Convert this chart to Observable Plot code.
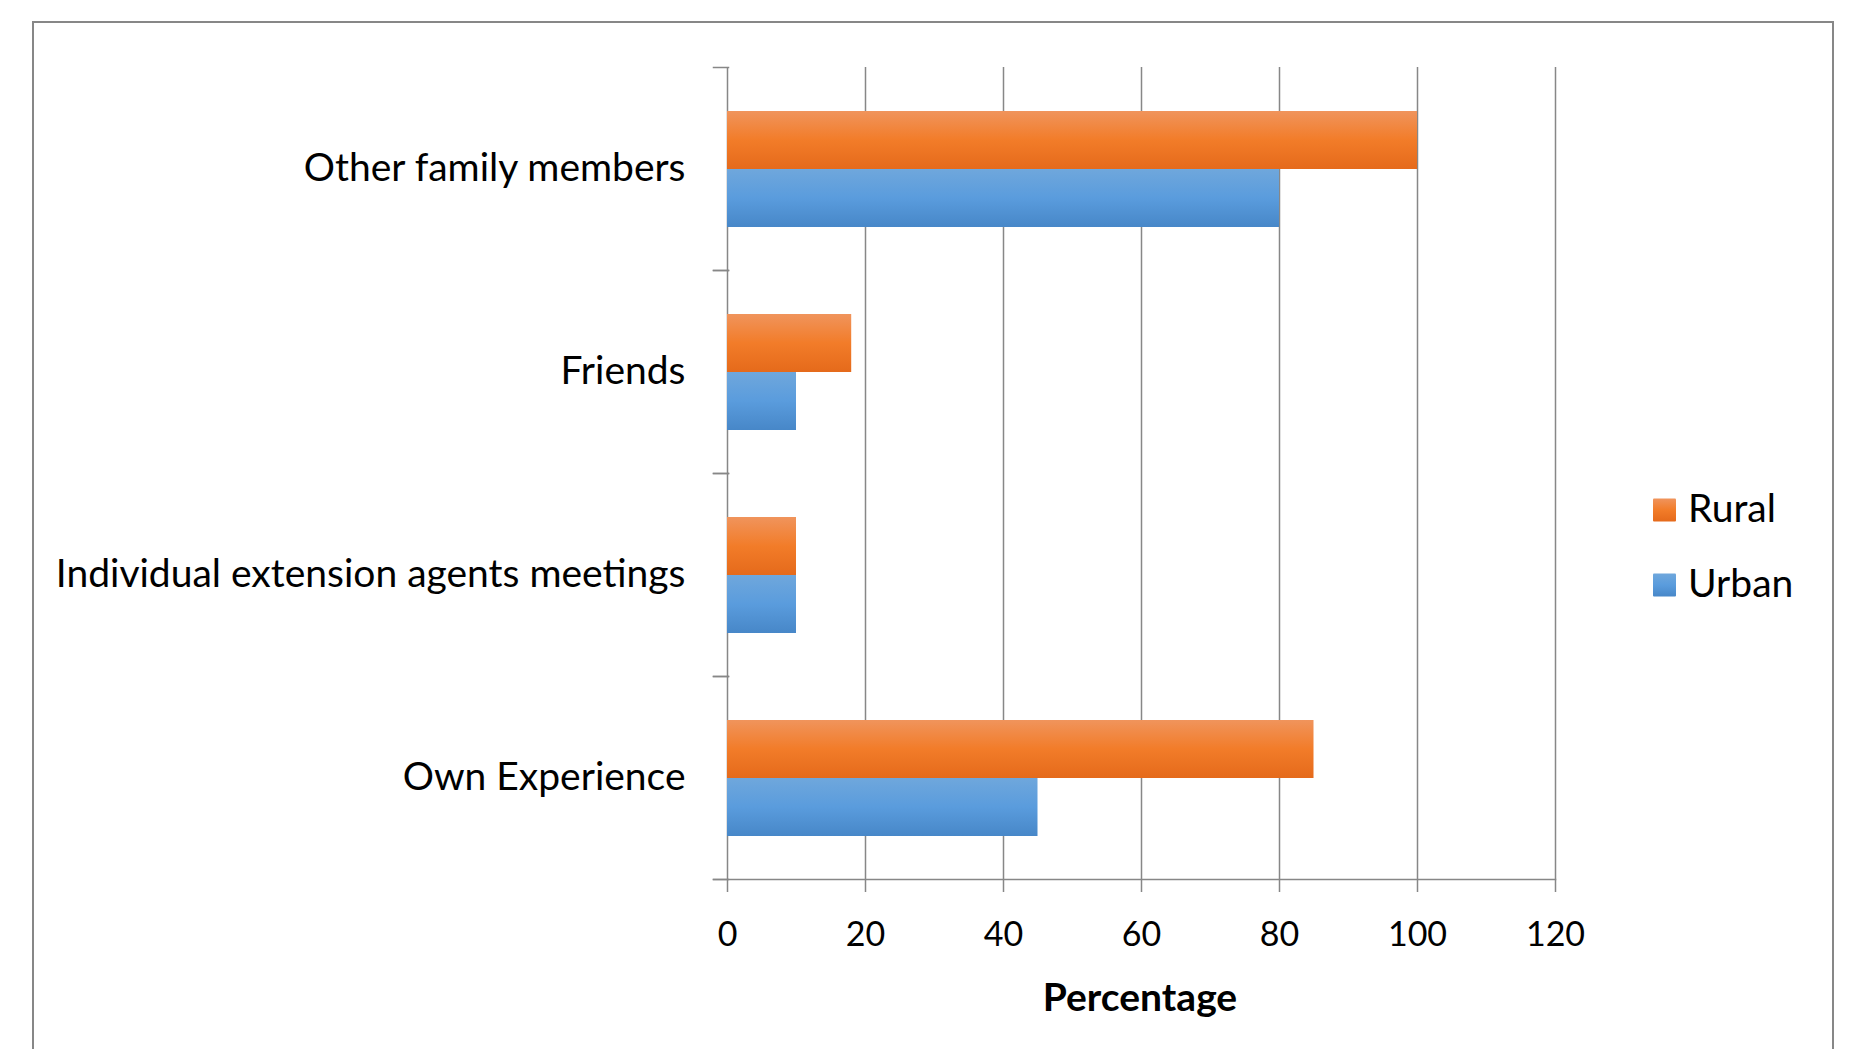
<!DOCTYPE html>
<html><head><meta charset="utf-8">
<script src="https://cdn.jsdelivr.net/npm/d3@7"></script>
<script src="https://cdn.jsdelivr.net/npm/@observablehq/plot@0.6"></script>
<style>
html,body{margin:0;padding:0;background:#fff;overflow:hidden;width:1849px;height:1049px;font-family:Lato,"Open Sans",sans-serif;color:#000}
#border{position:absolute;left:32px;top:21px;width:1802px;height:1100px;border:2px solid #878787;box-sizing:border-box}
#chart{position:absolute;left:0;top:0}
#chart svg g[aria-label^="x-axis"]{font-size:34px}
#chart svg g[aria-label^="fy-axis"]{font-size:39px}
#chart svg g[aria-label^="x-axis"] path,#chart svg g[aria-label^="x-axis"] line{stroke:#878787;stroke-width:1.5px}
#title{position:absolute;left:1140px;top:996px;transform:translate(-50%,-50%);font-weight:bold;font-size:39px;line-height:1;white-space:nowrap}
.leg{position:absolute;left:1653px;display:flex;align-items:center;font-size:39px;line-height:1;white-space:nowrap}
.leg .sw{width:23px;height:23px;margin-right:12px;border-radius:1px}
.leg .tx{position:relative;top:-3px}
</style></head><body>
<div id="border"></div>
<div id="chart"></div>
<div id="title"></div>
<div id="legend"></div>
<script>
const categories = ["Other family members", "Friends", "Individual extension agents meetings", "Own Experience"];
const series = ["Rural", "Urban"];
const ruralValues = [100, 18, 10, 85];
const urbanValues = [80, 10, 10, 45];
const xTicks = [0, 20, 40, 60, 80, 100, 120];
const axisTitle = "Percentage";
const gradients = {
  Rural: ["#F0945C", "#F27C29", "#E56A1B"],
  Urban: ["#6FA7DC", "#5A9CDD", "#4787C8"]
};

const valuesBySeries = {Rural: ruralValues, Urban: urbanValues};
const table = categories.flatMap((c, i) => series.map(s => ({category: c, series: s, value: valuesBySeries[s][i]})));
const gradId = s => "grad" + s;
const lastCategory = categories[categories.length - 1];

const plot = Plot.plot({
  width: 1849,
  height: 1049,
  marginLeft: 727,
  marginRight: 294,
  marginTop: 67,
  marginBottom: 170,
  style: {fontFamily: "Lato, 'Open Sans', sans-serif", color: "#000", background: "transparent", overflow: "visible"},
  x: {domain: [0, 120], ticks: xTicks, tickFormat: d => String(d), tickSize: 13, tickPadding: 29, label: null},
  y: {domain: series, paddingInner: 0, paddingOuter: 0.75, axis: null},
  fy: {domain: categories, padding: 0, axis: "left", tickSize: 0, tickPadding: 42, label: null},
  color: {domain: series, range: series.map(s => `url(#${gradId(s)})`)},
  marks: [
    Plot.ruleX(xTicks, {stroke: "#878787", strokeWidth: 1.5, strokeOpacity: 1}),
    Plot.barX(table, {fy: "category", y: "series", x: "value", fill: "series"}),
    Plot.frame({anchor: "top", stroke: "#878787", strokeWidth: 1.5, strokeOpacity: 1, insetLeft: -14, insetRight: 827}),
    Plot.frame({anchor: "bottom", stroke: "#878787", strokeWidth: 1.5, strokeOpacity: 1, insetLeft: -14, insetRight: 827}),
    Plot.frame({anchor: "bottom", fy: () => lastCategory, stroke: "#878787", strokeWidth: 1.5, strokeOpacity: 1, insetLeft: -14})
  ]
});

// gradient definitions for the bar fills
const ns = "http://www.w3.org/2000/svg";
const defs = document.createElementNS(ns, "defs");
for (const s of series) {
  const g = document.createElementNS(ns, "linearGradient");
  g.setAttribute("id", gradId(s));
  g.setAttribute("x1", "0"); g.setAttribute("y1", "0"); g.setAttribute("x2", "0"); g.setAttribute("y2", "1");
  gradients[s].forEach((c, i, arr) => {
    const st = document.createElementNS(ns, "stop");
    st.setAttribute("offset", String(i / (arr.length - 1)));
    st.setAttribute("stop-color", c);
    g.appendChild(st);
  });
  defs.appendChild(g);
}
const svgEl = plot.tagName.toLowerCase() === "svg" ? plot : plot.querySelector("svg");
svgEl.insertBefore(defs, svgEl.firstChild);
document.getElementById("chart").appendChild(plot);

document.getElementById("title").textContent = axisTitle;

const legendTops = {Rural: 509.5, Urban: 584.5};
const legend = document.getElementById("legend");
for (const s of series) {
  const item = document.createElement("div");
  item.className = "leg";
  item.style.top = legendTops[s] + "px";
  item.style.transform = "translateY(-50%)";
  const sw = document.createElement("span");
  sw.className = "sw";
  sw.style.background = `linear-gradient(${gradients[s].join(",")})`;
  const tx = document.createElement("span");
  tx.className = "tx";
  tx.textContent = s;
  item.appendChild(sw); item.appendChild(tx);
  legend.appendChild(item);
}
</script>
</body></html>
